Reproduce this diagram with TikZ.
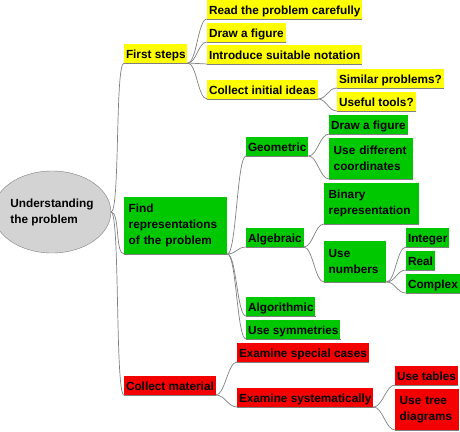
\documentclass[tikz,border=0pt]{standalone}
\usepackage{fontspec}
\setmainfont{Liberation Sans}
\usetikzlibrary{shapes.geometric}
\definecolor{stepyellow}{RGB}{255, 255, 0}
\definecolor{repgreen}{RGB}{0, 200, 0}
\definecolor{matred}{RGB}{245, 0, 0}
\definecolor{rootgray}{RGB}{211, 211, 211}
\definecolor{linkgray}{RGB}{128, 128, 128}

\begin{document}
\begin{tikzpicture}[x=1pt, y=-1pt,
  link/.style={draw=linkgray, line width=0.7pt,
    to path={.. controls +(9,0) and +(-9,0) .. (\tikztotarget)}},
  leaf/.style={anchor=south west, inner xsep=1.8pt, align=left,
    font=\fontsize{11.8}{16}\selectfont\bfseries,
    append after command={(\tikzlastnode.south west) edge[draw=linkgray, line width=0.7pt] (\tikzlastnode.south east)}},
  one/.style={leaf, text height=12.5pt, text depth=1.5pt, inner ysep=2.5pt},
  two/.style={leaf, inner xsep=4.5pt, inner ysep=0pt, minimum height=41pt, text width=#1},
  three/.style={leaf, inner xsep=4.5pt, inner ysep=0pt, minimum height=57pt, text width=#1}]
  \useasboundingbox (0,0) rectangle (460,431);

  % ===== root =====
  \node[ellipse, draw=linkgray, fill=rootgray, minimum width=102pt, minimum height=82pt,
        inner sep=0pt, align=left, font=\fontsize{11.8}{16}\selectfont\bfseries]
        (root) at (52,212) {Understanding\\the problem};

  % ===== first steps (yellow) =====
  \node[one, fill=stepyellow] (first) at (124,63) {First steps};
  \node[one, fill=stepyellow] (read) at (207,19) {Read the problem carefully};
  \node[one, fill=stepyellow] (figure) at (207,42) {Draw a figure};
  \node[one, fill=stepyellow] (notation) at (207,64) {Introduce suitable notation};
  \node[one, fill=stepyellow] (ideas) at (207,99) {Collect initial ideas};
  \node[one, fill=stepyellow] (similar) at (337,88) {Similar problems?};
  \node[one, fill=stepyellow] (tools) at (337,111) {Useful tools?};

  % ===== representations (green) =====
  \node[three=94pt, fill=repgreen] (repr) at (124,254) {Find\\representations\\of the problem};
  \node[one, fill=repgreen] (geom) at (246,156) {Geometric};
  \node[one, fill=repgreen] (gfigure) at (329,134) {Draw a figure};
  \node[two=75pt, fill=repgreen] (coords) at (329,179) {Use different\\coordinates};
  \node[one, fill=repgreen] (algebra) at (246,247) {Algebraic};
  \node[two=86pt, fill=repgreen] (binary) at (324,224) {Binary\\representation};
  \node[two=53pt, fill=repgreen] (numbers) at (324,282) {Use\\numbers};
  \node[one, fill=repgreen] (integer) at (406,247) {Integer};
  \node[one, fill=repgreen] (real) at (406,270) {Real};
  \node[one, fill=repgreen] (complex) at (406,293) {Complex};
  \node[one, fill=repgreen] (algo) at (246,316) {Algorithmic};
  \node[one, fill=repgreen] (symm) at (246,339) {Use symmetries};

  % ===== material (red) =====
  \node[one, fill=matred] (material) at (124,395) {Collect material};
  \node[one, fill=matred] (special) at (237,362) {Examine special cases};
  \node[one, fill=matred] (system) at (237,407) {Examine systematically};
  \node[one, fill=matred] (tables) at (395,385) {Use tables};
  \node[two=55pt, fill=matred] (tree) at (395,430) {Use tree\\diagrams};

  % ===== connectors =====
  \foreach \kid in {first, repr, material}
    \draw[link] (root.east) to (\kid.south west);
  \foreach \kid in {read, figure, notation, ideas}
    \draw[link] (first.south east) to (\kid.south west);
  \foreach \kid in {similar, tools}
    \draw[link] (ideas.south east) to (\kid.south west);
  \foreach \kid in {geom, algebra, algo, symm}
    \draw[link] (repr.south east) to (\kid.south west);
  \foreach \kid in {gfigure, coords}
    \draw[link] (geom.south east) to (\kid.south west);
  \foreach \kid in {binary, numbers}
    \draw[link] (algebra.south east) to (\kid.south west);
  \foreach \kid in {integer, real, complex}
    \draw[link] (numbers.south east) to (\kid.south west);
  \foreach \kid in {special, system}
    \draw[link] (material.south east) to (\kid.south west);
  \foreach \kid in {tables, tree}
    \draw[link] (system.south east) to (\kid.south west);
\end{tikzpicture}
\end{document}
